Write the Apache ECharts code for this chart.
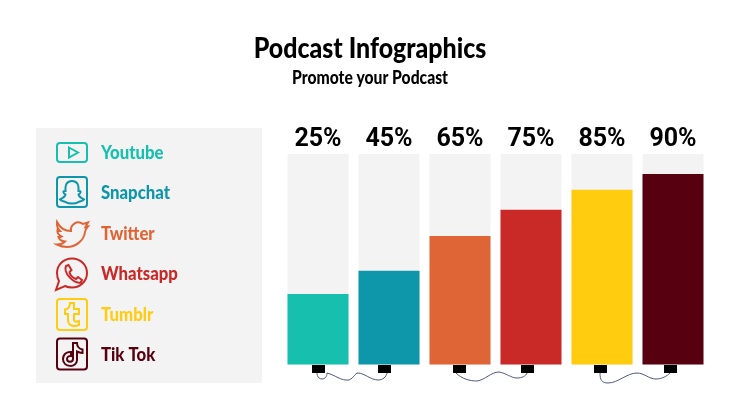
<!DOCTYPE html>
<html>
<head>
<meta charset="utf-8">
<style>html,body{margin:0;padding:0;background:#fff}#main{width:740px;height:416px}</style>
<script src="https://cdn.jsdelivr.net/npm/echarts@6/dist/echarts.min.js"></script>
</head>
<body>
<div id="main"></div>
<script>
var categories = ['Youtube', 'Snapchat', 'Twitter', 'Whatsapp', 'Tumblr', 'Tik Tok'];
var percentLabels = ['25%', '45%', '65%', '75%', '85%', '90%'];
// bar heights as drawn in the picture (they do not follow the labels exactly)
var barValues = [33.5, 44.5, 61, 73.5, 83, 90.5];
var trackValues = [100, 100, 100, 100, 100, 100];
var colors = ['#17c0ae', '#0e96aa', '#e06536', '#c92a28', '#ffcc10', '#560010'];

var font = 'Lato, sans-serif';

// icons, one per row of the panel
var icons = [
  'M60 143H84Q87 143 87 146V159Q87 162 84 162H60Q57 162 57 159V146Q57 143 60 143ZM69 147.5L78 152.5L69 157.5Z',
  'M60 177H84Q87 177 87 180V204Q87 207 84 207H60Q57 207 57 204V180Q57 177 60 177ZM72 181C66 181 65 186 65.5 191C64 191 63 191 63.5 192.5C64 194 65 194 65.5 194.5C65 197 62 198.5 60 199.5C61 201 63 201 64.5 201.5C66 202 67 203.5 72 203.5C77 203.5 78 202 79.5 201.5C81 201 83 201 84 199.5C82 198.5 79 197 78.5 194.5C79 194 80 194 80.5 192.5C81 191 80 191 78.5 191C79 186 78 181 72 181Z',
  'M57 222C60 228 65 231 71 231C70 225 77 219.5 83 224L88 222.5L85.5 227L88 226.5C86 229 85 230 85 232C84 241 75 247 67 247C63 247 60 246 57 244.5C60 244.5 63 243.5 65 241.5C61 241 59 239 58.5 237C59.5 237 60.5 237 61.5 236.5C58.5 235 57 232.5 57.5 230C58 230.5 59 231 60 231C57 228 56.5 225 57 222Z',
  'M72 258.5C80.5 258.5 87 265 87 273C87 281 80.5 287.5 72 287.5C69.5 287.5 67 287 65 286L56 290L59 281C57.5 278.5 57 276 57 273C57 265 63.5 258.5 72 258.5ZM66 266L68.5 265L71.5 270L69.5 272C70 275 73 278 76 279L78 277L82 280L80.5 282.5C74 284 63 273 66 266Z',
  'M60 299H84Q87 299 87 302V327Q87 330 84 330H60Q57 330 57 327V302Q57 299 60 299ZM70 303H74V309H79V314H74V320C74 322 76 322 79 321V325C74 327 68 326 68 320V314H65V309.5C68 309 70 307 70 303Z',
  'M60 338.5H84Q87 338.5 87 341.5V366.5Q87 369.5 84 369.5H60Q57 369.5 57 366.5V341.5Q57 338.5 60 338.5ZM73 343H77C77 346 79 349 82.5 349.5V353C80 353 78.5 352 77 351.5V360C77 368 63 368 63 359C63 354 67 351.5 71 352V356C69 355.5 67 357 67 359C67 362.5 73 362.5 73 359Z'
];

// connector plugs under the bars
var plugs = [
  [312, 365, 13, 8], [378, 365, 13, 8], [453, 365, 13, 8],
  [521, 365, 13, 8], [594, 365, 13, 8], [664, 365, 13, 8]
];
var wires = [
  'M317 373C317 381 327 381 327 373C335 375 341 381 349 380C354 378 355 373 358 373C364 373 371 380 378 380C383 380 386 377 387 373',
  'M456 373C462 379 470 381 477 381C485 380 491 372 499 372C506 373 511 378 517 378C522 378 526 376 527 373',
  'M600 373C600 380 602 383 608 383C618 383 627 373 637 373C644 373 649 379 656 379C662 379 667 376 670 373'
];

var graphics = [{
  type: 'rect', shape: { x: 36, y: 128, width: 226, height: 255 },
  style: { fill: '#f3f3f3' }, z: -1
}, {
  type: 'text', x: 370, y: 49, scaleX: 0.86,
  style: { text: 'Podcast Infographics', fill: '#000', font: '900 29px ' + font, textAlign: 'center', textVerticalAlign: 'middle' }
}, {
  type: 'text', x: 370, y: 78, scaleX: 0.87,
  style: { text: 'Promote your Podcast', fill: '#000', font: '900 18px ' + font, textAlign: 'center', textVerticalAlign: 'middle' }
}];
var rowY = [152.5, 193, 233.5, 274, 315, 355];
categories.forEach(function (name, i) {
  graphics.push({
    type: 'text', x: 101, y: rowY[i], scaleX: 0.88,
    style: { text: name, fill: colors[i], font: '900 19px ' + font, textVerticalAlign: 'middle' }
  });
});
plugs.forEach(function (p) {
  graphics.push({ type: 'rect', shape: { x: p[0], y: p[1], width: p[2], height: p[3] }, style: { fill: '#000' }, z: 3 });
});

// icons and wires go through a custom series, graphic has no free path type
var decoPaths = icons.map(function (d, i) { return { d: d, color: colors[i], width: 2 }; })
  .concat(wires.map(function (d) { return { d: d, color: '#4b5a7d', width: 1 }; }));

var chart = echarts.init(document.getElementById('main'), null, { renderer: 'canvas' });
chart.setOption({
  animation: false,
  backgroundColor: '#fff',
  grid: { left: 282.5, top: 154, width: 426, height: 210.5 },
  xAxis: { type: 'category', data: categories, show: false },
  yAxis: { type: 'value', min: 0, max: 100, show: false },
  series: [
    {
      type: 'bar', data: trackValues, barWidth: 61, barGap: '-100%',
      itemStyle: { color: '#f3f3f3' }, silent: true,
      label: {
        show: true, position: 'top', distance: 2,
        formatter: function (p) { return percentLabels[p.dataIndex]; },
        fontFamily: 'Roboto, sans-serif', fontWeight: 'bold', fontSize: 25, color: '#000'
      }
    },
    {
      type: 'bar', barWidth: 61, barGap: '-100%',
      data: barValues.map(function (v, i) { return { value: v, itemStyle: { color: colors[i] } }; })
    },
    {
      type: 'custom', coordinateSystem: 'none', silent: true, z: 5,
      data: decoPaths.map(function (p, i) { return i; }),
      renderItem: function (params) {
        var p = decoPaths[params.dataIndex];
        return {
          type: 'path',
          shape: { pathData: p.d },
          style: { fill: 'none', stroke: p.color, lineWidth: p.width }
        };
      }
    }
  ],
  graphic: graphics
});
</script>
</body>
</html>
